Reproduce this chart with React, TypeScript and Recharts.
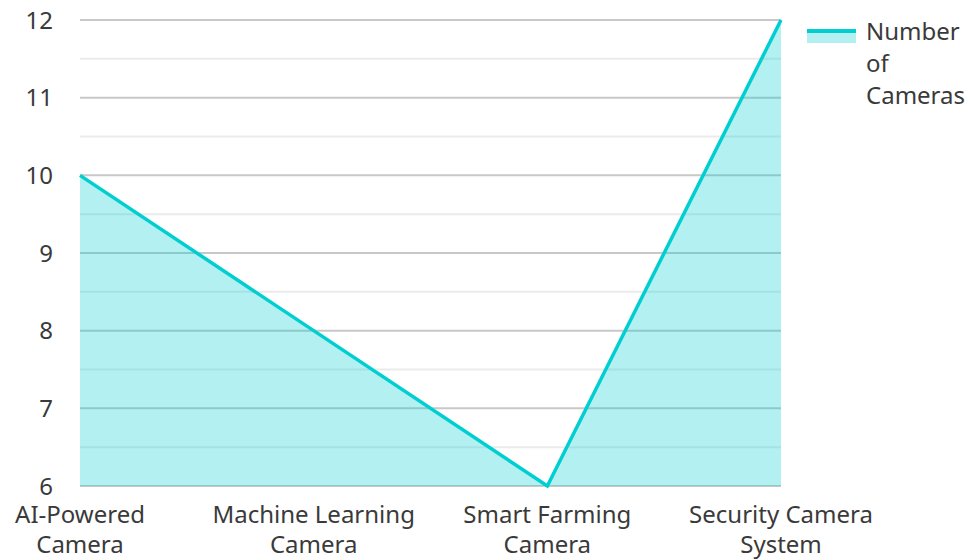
import React from 'react';
import { AreaChart, Area, XAxis, YAxis, CartesianGrid, Legend } from 'recharts';

// categories and values
const categories = [
  'AI-Powered Camera',
  'Machine Learning Camera',
  'Smart Farming Camera',
  'Security Camera System',
];
const cameraCounts = [10, 8, 6, 12];
const yTicks = [6, 6.5, 7, 7.5, 8, 8.5, 9, 9.5, 10, 10.5, 11, 11.5, 12];
const seriesName = 'Number of Cameras';

const COLOR = '#00CED1';
const FONT = '"Noto Sans", "Open Sans", sans-serif';
const TEXT = '#3a3a3a';

const data = categories.map((name, i) => ({ name, cameras: cameraCounts[i] }));

// split label at its last space -> two lines
const CategoryTick = (props: any) => {
  const { x, y, payload } = props;
  const label: string = payload.value;
  const cut = label.lastIndexOf(' ');
  const lines = cut > 0 ? [label.slice(0, cut), label.slice(cut + 1)] : [label];
  return (
    <text x={x} y={y} textAnchor="middle" fill={TEXT} fontSize={24} fontFamily={FONT}>
      {lines.map((line, i) => (
        <tspan key={i} x={x} dy={i === 0 ? 29 : 30}>
          {line}
        </tspan>
      ))}
    </text>
  );
};

const GridLine = (props: any) => {
  const { x1, y1, x2, y2, index } = props;
  const major = index % 2 === 0;
  return (
    <line
      key={`h-${index}`}
      x1={x1}
      y1={y1}
      x2={x2}
      y2={y2}
      stroke={major ? '#c8c8c8' : '#ebebeb'}
      strokeWidth={2}
    />
  );
};

const LegendContent = () => (
  <div style={{ display: 'flex', alignItems: 'flex-start', fontFamily: FONT, color: TEXT }}>
    <div style={{ width: 49, marginTop: 14, marginRight: 10 }}>
      <div style={{ height: 4, background: COLOR }} />
      <div style={{ height: 10, background: COLOR, opacity: 0.3 }} />
    </div>
    <div style={{ width: 104, fontSize: 24, lineHeight: '32px' }}>{seriesName}</div>
  </div>
);

export default function App() {
  return (
    <div style={{ position: 'absolute', left: 0, top: 0, width: 971, height: 560, background: '#fff' }}>
      <AreaChart
        width={971}
        height={560}
        data={data}
        margin={{ top: 20, right: 190, bottom: 0, left: 0 }}
      >
        <CartesianGrid vertical={false} horizontal={GridLine} />
        <XAxis
          dataKey="name"
          height={74}
          axisLine={false}
          tickLine={false}
          interval={0}
          tick={<CategoryTick />}
        />
        <YAxis
          domain={[6, 12]}
          ticks={yTicks}
          width={80}
          axisLine={false}
          tickLine={false}
          tickMargin={21}
          interval={0}
          tickFormatter={(v: number) => (Number.isInteger(v) ? String(v) : '')}
          tick={{ fill: TEXT, fontSize: 24, fontFamily: FONT }}
        />
        <Legend
          layout="vertical"
          align="center"
          verticalAlign="middle"
          content={<LegendContent />}
          wrapperStyle={{ left: 807, top: 15, width: 166 }}
        />
        <Area
          type="linear"
          dataKey="cameras"
          name={seriesName}
          stroke={COLOR}
          strokeWidth={3.5}
          fill={COLOR}
          fillOpacity={0.3}
          dot={false}
          activeDot={false}
          isAnimationActive={false}
        />
      </AreaChart>
    </div>
  );
}
